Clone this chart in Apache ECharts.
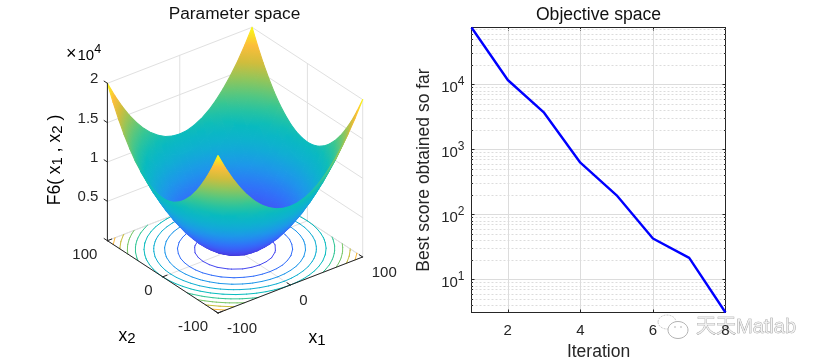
<!DOCTYPE html>
<html><head><meta charset="utf-8">
<style>html,body{margin:0;padding:0;background:#fff}#c{width:825px;height:362px}</style>
<script src="https://cdn.jsdelivr.net/npm/echarts@6/dist/echarts.min.js"></script>
</head><body><div id="c"></div>
<script>
// ---- data: convergence curve
var iterations = [1,2,3,4,5,6,7,8];
var bestScore = [74800,11640,3656,622,196,42.3,21.3,3.08];
var iterTicks = [2,4,6,8];
var minorGrid = [70000,60000,50000,40000,30000,20000,9000,8000,7000,6000,5000,4000,3000,2000,900,800,700,600,500,400,300,200,90,80,70,60,50,40,30,20,9,8,7,6,5,4];
// ---- data: surface
var x1Grid = [-100,-90,-80,-70,-60,-50,-40,-30,-20,-10,0,10,20,30,40,50,60,70,80,90,100];
var x2Grid = [-100,-90,-80,-70,-60,-50,-40,-30,-20,-10,0,10,20,30,40,50,60,70,80,90,100];
var zGrid = [
[20000,18100,16400,14900,13600,12500,11600,10900,10400,10100,10000,10100,10400,10900,11600,12500,13600,14900,16400,18100,20000],
[18100,16200,14500,13000,11700,10600,9700,9000,8500,8200,8100,8200,8500,9000,9700,10600,11700,13000,14500,16200,18100],
[16400,14500,12800,11300,10000,8900,8000,7300,6800,6500,6400,6500,6800,7300,8000,8900,10000,11300,12800,14500,16400],
[14900,13000,11300,9800,8500,7400,6500,5800,5300,5000,4900,5000,5300,5800,6500,7400,8500,9800,11300,13000,14900],
[13600,11700,10000,8500,7200,6100,5200,4500,4000,3700,3600,3700,4000,4500,5200,6100,7200,8500,10000,11700,13600],
[12500,10600,8900,7400,6100,5000,4100,3400,2900,2600,2500,2600,2900,3400,4100,5000,6100,7400,8900,10600,12500],
[11600,9700,8000,6500,5200,4100,3200,2500,2000,1700,1600,1700,2000,2500,3200,4100,5200,6500,8000,9700,11600],
[10900,9000,7300,5800,4500,3400,2500,1800,1300,1000,900,1000,1300,1800,2500,3400,4500,5800,7300,9000,10900],
[10400,8500,6800,5300,4000,2900,2000,1300,800,500,400,500,800,1300,2000,2900,4000,5300,6800,8500,10400],
[10100,8200,6500,5000,3700,2600,1700,1000,500,200,100,200,500,1000,1700,2600,3700,5000,6500,8200,10100],
[10000,8100,6400,4900,3600,2500,1600,900,400,100,0,100,400,900,1600,2500,3600,4900,6400,8100,10000],
[10100,8200,6500,5000,3700,2600,1700,1000,500,200,100,200,500,1000,1700,2600,3700,5000,6500,8200,10100],
[10400,8500,6800,5300,4000,2900,2000,1300,800,500,400,500,800,1300,2000,2900,4000,5300,6800,8500,10400],
[10900,9000,7300,5800,4500,3400,2500,1800,1300,1000,900,1000,1300,1800,2500,3400,4500,5800,7300,9000,10900],
[11600,9700,8000,6500,5200,4100,3200,2500,2000,1700,1600,1700,2000,2500,3200,4100,5200,6500,8000,9700,11600],
[12500,10600,8900,7400,6100,5000,4100,3400,2900,2600,2500,2600,2900,3400,4100,5000,6100,7400,8900,10600,12500],
[13600,11700,10000,8500,7200,6100,5200,4500,4000,3700,3600,3700,4000,4500,5200,6100,7200,8500,10000,11700,13600],
[14900,13000,11300,9800,8500,7400,6500,5800,5300,5000,4900,5000,5300,5800,6500,7400,8500,9800,11300,13000,14900],
[16400,14500,12800,11300,10000,8900,8000,7300,6800,6500,6400,6500,6800,7300,8000,8900,10000,11300,12800,14500,16400],
[18100,16200,14500,13000,11700,10600,9700,9000,8500,8200,8100,8200,8500,9000,9700,10600,11700,13000,14500,16200,18100],
[20000,18100,16400,14900,13600,12500,11600,10900,10400,10100,10000,10100,10400,10900,11600,12500,13600,14900,16400,18100,20000]
];
var contourLevels = [2000,4000,6000,8000,10000,12000,14000,16000,18000];
var x1Ticks = [-100,0,100];
var x2Ticks = [-100,0,100];
var zTicks = [0,5000,10000,15000,20000];
var zTickLabels = ['','0.5','1','1.5','2'];

// ---- styles / view
var FONT = '"Liberation Sans", Arial, sans-serif';
var INK = '#262626', GRIDC = '#e0e0e0';
var ZMAX = 20000;
var parulaStops = [[62,50,200],[70,72,240],[50,110,250],[30,150,235],[15,175,210],[8,187,190],[50,198,150],[120,200,105],[200,190,60],[252,186,60],[249,250,20]];
function parula(t){
  t = Math.max(0,Math.min(1,t))*(parulaStops.length-1);
  var i = Math.min(Math.floor(t),parulaStops.length-2), f=t-i, a=parulaStops[i], b=parulaStops[i+1];
  return 'rgb('+Math.round(a[0]+(b[0]-a[0])*f)+','+Math.round(a[1]+(b[1]-a[1])*f)+','+Math.round(a[2]+(b[2]-a[2])*f)+')';
}
// orthographic view of the 3D box onto the page plane
var VIEW = {cx:235.05, cy:248.85, x1:[0.7235,-0.28], x2:[-0.553,-0.3615], z:-157.4/ZMAX};
function proj(x1,x2,z){
  return [VIEW.cx+x1*VIEW.x1[0]+x2*VIEW.x2[0], VIEW.cy+x1*VIEW.x1[1]+x2*VIEW.x2[1]+z*VIEW.z];
}
function depth(x1,x2,z){ return 0.553*x1+0.7235*x2-0.529*z/100; }

// grid / wall segments
var wallSegs = [];
zTicks.forEach(function(z){
  wallSegs.push([-100,100,z,100,100,z]); wallSegs.push([100,100,z,100,-100,z]);
});
x1Ticks.forEach(function(t){
  wallSegs.push([t,100,0,t,100,ZMAX]); wallSegs.push([t,-100,0,t,100,0]);
});
x2Ticks.forEach(function(t){
  wallSegs.push([100,t,0,100,t,ZMAX]); wallSegs.push([-100,t,0,100,t,0]);
});
// axis lines and ticks
var axisSegs = [[-100,100,0,-100,100,ZMAX],[-100,100,0,-100,-100,0],[-100,-100,0,100,-100,0]];
zTicks.forEach(function(z){ axisSegs.push([-100,100,z,-100,106,z]); });
x1Ticks.forEach(function(t){ axisSegs.push([t,-100,0,t,-94,0]); });
x2Ticks.forEach(function(t){ axisSegs.push([-100,t,0,-94,t,0]); });

// contours by marching squares over the surface matrix
var contourSegs = [];
contourLevels.forEach(function(L){
  for(var j=0;j<x2Grid.length-1;j++) for(var i=0;i<x1Grid.length-1;i++){
    var c=[[x1Grid[i],x2Grid[j],zGrid[j][i]],[x1Grid[i+1],x2Grid[j],zGrid[j][i+1]],[x1Grid[i+1],x2Grid[j+1],zGrid[j+1][i+1]],[x1Grid[i],x2Grid[j+1],zGrid[j+1][i]]];
    var hits=[];
    for(var k=0;k<4;k++){
      var a=c[k],b=c[(k+1)%4];
      if((a[2]>=L)!==(b[2]>=L)){
        var t=(L-a[2])/(b[2]-a[2]);
        hits.push([a[0]+(b[0]-a[0])*t,a[1]+(b[1]-a[1])*t]);
      }
    }
    for(var h=0;h+1<hits.length;h+=2) contourSegs.push([hits[h][0],hits[h][1],hits[h+1][0],hits[h+1][1],L]);
  }
});

// surface cells sorted far to near
var cells = [];
for(var j=0;j<x2Grid.length-1;j++) for(var i=0;i<x1Grid.length-1;i++) cells.push([i,j]);
function cellDepth(c){
  var i=c[0],j=c[1];
  return depth((x1Grid[i]+x1Grid[i+1])/2,(x2Grid[j]+x2Grid[j+1])/2,(zGrid[j][i]+zGrid[j][i+1]+zGrid[j+1][i]+zGrid[j+1][i+1])/4);
}
cells.sort(function(a,b){return cellDepth(b)-cellDepth(a);});

function cellFill(p,zs){
  var zc=(zs[0]+zs[1]+zs[2]+zs[3])/4;
  var ux=((p[1][0]-p[0][0])+(p[2][0]-p[3][0]))/2, uy=((p[1][1]-p[0][1])+(p[2][1]-p[3][1]))/2;
  var vx=((p[3][0]-p[0][0])+(p[2][0]-p[1][0]))/2, vy=((p[3][1]-p[0][1])+(p[2][1]-p[1][1]))/2;
  var zu=((zs[1]-zs[0])+(zs[2]-zs[3]))/2, zv=((zs[3]-zs[0])+(zs[2]-zs[1]))/2;
  var det=ux*vy-uy*vx;
  var flat=parula(zc/ZMAX);
  if(Math.abs(det)<3) return flat;
  var gx=(zu*vy-zv*uy)/det, gy=(ux*zv-vx*zu)/det, g2=gx*gx+gy*gy;
  if(g2<1e-6) return flat;
  var h=Math.max(Math.abs(zs[0]-zc),Math.abs(zs[1]-zc),Math.abs(zs[2]-zc),Math.abs(zs[3]-zc));
  var cx=(p[0][0]+p[1][0]+p[2][0]+p[3][0])/4, cy=(p[0][1]+p[1][1]+p[2][1]+p[3][1])/4;
  return new echarts.graphic.LinearGradient(cx-gx*h/g2,cy-gy*h/g2,cx+gx*h/g2,cy+gy*h/g2,[
    {offset:0,color:parula((zc-h)/ZMAX)},{offset:0.5,color:flat},{offset:1,color:parula((zc+h)/ZMAX)}],true);
}

function segItem(api,color,w,a,b){
  var p=api.coord(a),q=api.coord(b);
  return {type:'line',shape:{x1:p[0],y1:p[1],x2:q[0],y2:q[1]},style:{stroke:color,lineWidth:w,lineCap:'round'},silent:true};
}

var label3d = [];
x1Ticks.forEach(function(t){ label3d.push([t,-100,0,String(t),9,16,'left']); });
x2Ticks.forEach(function(t){ label3d.push([-100,t,0,String(t),-10,14,'right']); });
zTicks.forEach(function(z,i){ if(zTickLabels[i]) label3d.push([-100,100,z,zTickLabels[i],-9,-4,'right']); });

var subRich = {n:{fontFamily:FONT,fontSize:17.5,color:INK,lineHeight:20},s:{fontFamily:FONT,fontSize:15,color:INK,lineHeight:20,padding:[9,0,0,0],verticalAlign:'bottom'}};

var option = {
  animation:false,
  backgroundColor:'#fff',
  title:[
    {text:'Parameter space',left:234.5,top:6,padding:0,textAlign:'center',textStyle:{fontFamily:FONT,fontSize:17.3,fontWeight:'normal',color:'#111'}},
    {text:'Objective space',left:598.5,top:6,padding:0,textAlign:'center',textStyle:{fontFamily:FONT,fontSize:17.6,fontWeight:'normal',color:'#111'}}
  ],
  grid:[
    {left:0,top:0,width:825,height:362,show:false,outerBoundsMode:'none'},
    {left:471.5,top:27.5,width:254,height:285,show:true,borderColor:INK,borderWidth:1,backgroundColor:'transparent',outerBoundsMode:'none'}
  ],
  xAxis:[
    {gridIndex:0,type:'value',min:0,max:825,show:false},
    {gridIndex:1,type:'value',min:1,max:8,position:'bottom',
     name:'Iteration',nameLocation:'middle',nameGap:31,nameTextStyle:{fontFamily:FONT,fontSize:17.5,color:INK},
     axisLine:{lineStyle:{color:INK}},
     axisTick:{inside:true,length:3,lineStyle:{color:INK},customValues:iterTicks},
     axisLabel:{fontFamily:FONT,fontSize:15,color:INK,margin:11,customValues:iterTicks},
     splitLine:{show:true,lineStyle:{color:'#dcdcdc'},customValues:iterTicks}},
    {gridIndex:1,type:'value',min:1,max:8,position:'top',
     axisLine:{lineStyle:{color:INK}},
     axisTick:{inside:true,length:3,lineStyle:{color:INK},customValues:iterTicks},
     axisLabel:{show:false},splitLine:{show:false}}
  ],
  yAxis:[
    {gridIndex:0,type:'value',min:0,max:362,inverse:true,show:false},
    {gridIndex:1,type:'log',logBase:10,min:3.08,max:74800,position:'left',
     name:'Best score obtained so far',nameLocation:'middle',nameGap:38,nameTextStyle:{fontFamily:FONT,fontSize:17.5,color:INK},
     axisLine:{lineStyle:{color:INK}},
     axisTick:{inside:true,length:3,lineStyle:{color:INK}},
     axisLabel:{margin:7,showMinLabel:false,showMaxLabel:false,padding:[3,0,0,0],
       formatter:function(v){var e=Math.log10(v);return Math.abs(e-Math.round(e))<1e-6?'{b|10}{s|'+Math.round(e)+'}':'';},
       rich:{b:{fontFamily:FONT,fontSize:15,color:INK,lineHeight:20,verticalAlign:'bottom'},s:{fontFamily:FONT,fontSize:12,color:INK,lineHeight:20,padding:[0,0,8,0],verticalAlign:'top'}}},
     splitLine:{show:true,lineStyle:{color:'#dcdcdc'}}},
    {gridIndex:1,type:'log',logBase:10,min:3.08,max:74800,position:'right',
     axisLine:{lineStyle:{color:INK}},
     axisTick:{inside:true,length:3,lineStyle:{color:INK}},
     axisLabel:{show:false},splitLine:{show:false}}
  ],
  series:[
    {type:'custom',xAxisIndex:0,yAxisIndex:0,silent:true,data:wallSegs,clip:false,
     renderItem:function(p,api){
       var a=proj(api.value(0),api.value(1),api.value(2)),b=proj(api.value(3),api.value(4),api.value(5));
       return segItem(api,GRIDC,1,a,b);
     }},
    {type:'custom',xAxisIndex:0,yAxisIndex:0,silent:true,data:contourSegs,clip:false,
     renderItem:function(p,api){
       var a=proj(api.value(0),api.value(1),0),b=proj(api.value(2),api.value(3),0);
       return segItem(api,parula(api.value(4)/ZMAX),1,a,b);
     }},
    {type:'custom',xAxisIndex:0,yAxisIndex:0,silent:true,data:cells,clip:false,
     renderItem:function(p,api){
       var i=api.value(0),j=api.value(1);
       var v=[[i,j],[i+1,j],[i+1,j+1],[i,j+1]];
       var zs=v.map(function(q){return zGrid[q[1]][q[0]];});
       var pts=v.map(function(q){return api.coord(proj(x1Grid[q[0]],x2Grid[q[1]],zGrid[q[1]][q[0]]));});
       var f=cellFill(pts,zs);
       return {type:'polygon',shape:{points:pts},style:{fill:f,stroke:f,lineWidth:1.1,lineJoin:'round'},silent:true};
     }},
    {type:'custom',xAxisIndex:0,yAxisIndex:0,silent:true,data:axisSegs,clip:false,
     renderItem:function(p,api){
       var a=proj(api.value(0),api.value(1),api.value(2)),b=proj(api.value(3),api.value(4),api.value(5));
       return segItem(api,INK,1,a,b);
     }},
    {type:'custom',xAxisIndex:0,yAxisIndex:0,silent:true,clip:false,
     data:label3d.map(function(l){return l.slice(0,3);}),
     renderItem:function(p,api){
       var l=label3d[p.dataIndex];
       var c=api.coord(proj(api.value(0),api.value(1),api.value(2)));
       return {type:'text',x:c[0]+l[4],y:c[1]+l[5],silent:true,
         style:{text:l[3],fontFamily:FONT,fontSize:15,fill:INK,textAlign:l[6],textVerticalAlign:'middle'}};
     }},
    {type:'custom',xAxisIndex:1,yAxisIndex:1,silent:true,data:minorGrid.map(function(v){return [1,v];}),clip:false,
     renderItem:function(p,api){
       var y=api.coord([1,api.value(1)])[1], a=api.coord([1,api.value(1)])[0], b=api.coord([8,api.value(1)])[0];
       y=Math.round(y)+0.5;
       return {type:'group',silent:true,children:[
         {type:'line',shape:{x1:a,y1:y,x2:b,y2:y},style:{stroke:'#dcdcdc',lineWidth:1,lineDash:[2,2]}},
         {type:'line',shape:{x1:a,y1:y,x2:a+1.5,y2:y},style:{stroke:INK,lineWidth:1}},
         {type:'line',shape:{x1:b-1.5,y1:y,x2:b,y2:y},style:{stroke:INK,lineWidth:1}}
       ]};
     }},
    {name:'Best score',type:'line',xAxisIndex:1,yAxisIndex:1,showSymbol:false,symbol:'none',clip:true,
     lineStyle:{color:'#0000ff',width:2.4},
     data:iterations.map(function(x,i){return [x,bestScore[i]];})}
  ],
  graphic:[
    {type:'text',x:66,y:53,silent:true,style:{text:'{g|×}{b|10}{s|4}',rich:{
        g:{fontFamily:FONT,fontSize:18,color:'#a0a0a0',lineHeight:20,verticalAlign:'bottom',padding:[0,1,0,0]},
        b:{fontFamily:FONT,fontSize:15,color:INK,lineHeight:20,verticalAlign:'bottom'},
        s:{fontFamily:FONT,fontSize:12.5,color:INK,lineHeight:20,padding:[0,0,8,0],verticalAlign:'top'}},
      textVerticalAlign:'middle'}},
    {type:'text',x:55,y:160,rotation:Math.PI/2,silent:true,style:{text:'{n|F6( x}{s|1}{n| , x}{s|2}{n| )}',rich:subRich,textAlign:'center',textVerticalAlign:'middle'}},
    {type:'text',x:127,y:336,silent:true,style:{text:'{n|x}{s|2}',rich:subRich,textAlign:'center',textVerticalAlign:'middle'}},
    {type:'text',x:317,y:338,silent:true,style:{text:'{n|x}{s|1}',rich:subRich,textAlign:'center',textVerticalAlign:'middle'}},
    // watermark
    {type:'ellipse',shape:{cx:667,cy:322,rx:9,ry:7},silent:true,style:{fill:'rgba(255,255,255,0.7)',stroke:'#cfcfcf',lineWidth:1,lineDash:[2,1]}},
    {type:'ellipse',shape:{cx:678,cy:330,rx:10,ry:8.5},silent:true,style:{fill:'#fff',stroke:'#b4b4b4',lineWidth:1}},
    {type:'circle',shape:{cx:675,cy:327,r:0.8},silent:true,style:{fill:'#aaa'}},
    {type:'circle',shape:{cx:681,cy:327,r:0.8},silent:true,style:{fill:'#aaa'}},
    {type:'text',x:696,y:327,silent:true,style:{text:'天天Matlab',fontFamily:'"Liberation Sans","Noto Sans CJK SC",sans-serif',fontSize:20,fill:'rgba(240,240,240,0.75)',stroke:'rgba(120,120,120,0.85)',lineWidth:0.6,textVerticalAlign:'middle'}}
  ]
};
var chart = echarts.init(document.getElementById('c'),null,{renderer:'canvas',width:825,height:362});
chart.setOption(option);
</script></body></html>
